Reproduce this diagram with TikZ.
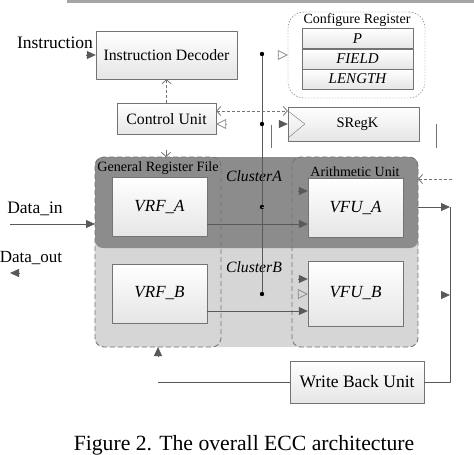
\documentclass[tikz,border=0pt]{standalone}
\usepackage{fontspec}
\setmainfont{Liberation Serif}
\usetikzlibrary{arrows.meta}
\tikzset{
	blk/.style={draw=black!55, top color=white, bottom color=black!10, inner sep=0pt},
	ln/.style={draw=black!65, line width=0.8pt},
	tipf/.style={ln, -{Triangle[length=9pt,width=8pt]}},
	tipo/.style={ln, draw=black!45, -{Triangle[open,length=10pt,width=10pt]}},
	barb/.style={ln, draw=black!55, -{Straight Barb[length=4pt,width=9pt]}},
	dsh/.style={dash pattern=on 3pt off 2pt}
}
\newcommand{\fsz}[1]{\fontsize{#1}{#1}\selectfont}
\begin{document}
\begin{tikzpicture}[x=1pt, y=-1pt, font=\fsz{15.8}, line join=round]
	\useasboundingbox (0,0) rectangle (474,455);
	\fill[black!35] (67,0) rectangle (474,3);
	% clusters
	\fill[black!16, rounded corners=8pt] (95,157) rectangle (418,347);
	\fill[black!45, rounded corners=8pt] (95,157) rectangle (418,248);
	\draw[black!55, dash pattern=on 5pt off 3pt, line width=0.8pt, rounded corners=9pt] (95,157) rectangle (221,347) (292,157) rectangle (418,347);
	\node[font=\fsz{14.2}] (grf) at (158,168) {General Register File};
	\node[font=\fsz{14}] (au) at (355,172) {Arithmetic Unit};
	\node[font=\itshape\fsz{15.7}] (ca) at (254,176) {ClusterA};
	\node[font=\itshape\fsz{15.7}] (cb) at (254,267) {ClusterB};
	% blocks
	\node[blk, minimum width=141pt, minimum height=48pt] (dec) at (166.5,55) {Instruction Decoder};
	\node[blk, minimum width=99pt, minimum height=31pt] (cu) at (166.5,119) {Control Unit};
	\node[draw=black!60, fill=white, dash pattern=on 1.5pt off 1.5pt, rounded corners=16pt, minimum width=137pt, minimum height=86pt] (cfg) at (356.5,55) {};
	\node[font=\fsz{14}] (cfgt) at (357,20) {Configure Register};
	\foreach \r/\t/\yy in {p/P/38.5, field/FIELD/59, len/LENGTH/79}
		\node[blk, font=\itshape\fsz{15}, minimum width=111pt, minimum height=20pt] (\r) at (357.5,\yy) {\t};
	\node[blk, font=\fsz{14.5}, minimum width=131pt, minimum height=34pt] (sreg) at (353.5,124) {\hspace{8pt}SRegK};
	\draw[black!55] ([yshift=-4pt]sreg.north west) -- ([xshift=17pt]sreg.west) -- ([yshift=3pt]sreg.south west);
	\node[blk, font=\itshape\fsz{17}, minimum width=95pt, minimum height=59pt] (vrfa) at (159.5,206.5) {VRF\_A};
	\node[blk, font=\itshape\fsz{17}, minimum width=95pt, minimum height=59pt] (vrfb) at (159.5,293.5) {VRF\_B};
	\node[blk, font=\itshape\fsz{17}, minimum width=95pt, minimum height=59pt] (vfua) at (355.5,207.5) {VFU\_A};
	\node[blk, font=\itshape\fsz{17}, minimum width=95pt, minimum height=65pt] (vfub) at (355.5,293.5) {VFU\_B};
	\node[blk, font=\fsz{17.5}, minimum width=134pt, minimum height=42pt] (wbu) at (357,382) {Write Back Unit};
	\draw[black!55] (271,125) -- (271,148) (436,124) -- (436,148);
	% labels
	\node[font=\fsz{17.5}] (ins) at (55,43) {Instruction};
	\node[font=\fsz{17.5}] (din) at (35,209) {Data\_in};
	\node[font=\fsz{17}] (dout) at (31,258) {Data\_out};
	\node[font=\fsz{21.7}, anchor=base] (cap) at (244,450) {Figure 2. The overall ECC architecture};
	% bus
	\path (262,54) coordinate (b1) (262,124) coordinate (b2) (262,207) coordinate (b3) (262,294) coordinate (b4)
		(10,224) coordinate (dl) (450,207) coordinate (ob) (158,382) coordinate (wb);
	\draw[ln] (b1) -- (b4);
	\foreach \b in {b1,b2,b3,b4}\fill (\b) circle (2.2pt);
	\draw[tipo] ([xshift=-10pt]cfg.west) -- (cfg.west);
	\draw[tipo] ([xshift=10pt]cu.east |- b2) -- (cu.east |- b2);
	\draw[tipf] ([xshift=-9pt]sreg.west) -- (sreg.west);
	\draw[tipo] (b3) -- (vfua.west |- b3);
	\draw[tipo] ([xshift=-10pt]vfub.west |- b4) -- (vfub.west |- b4);
	\draw[tipf] (298,191) -- (vfua.west |- 0,191);
	\draw[tipf] (298,279) -- (vfub.west |- 0,279);
	\draw[tipf] (vrfa.east |- 0,224) -- (vfua.west |- 0,224);
	\draw[tipf] (vrfb.east |- 0,311) -- (vfub.west |- 0,311);
	% control
	\draw[barb, dsh] (cu.north) -- (dec.south);
	\draw[barb, dsh, {Straight Barb[length=4pt,width=9pt]}-{Straight Barb[length=4pt,width=9pt]}] (cu.east |- 0,111) -- (sreg.west |- 0,111);
	\draw[barb] (166,150) -- (166,157);
	\draw[barb, dsh] (452,179) -- (418,179);
	% data
	\draw[tipf] (86,55) -- (dec.west);
	\draw[tipf] (dl) -- (95,224);
	\draw[tipf] (19,273) -- (10,273);
	\draw[tipf] (418,207) -- (ob);
	\draw[ln] (ob) |- (wbu.east);
	\draw[tipf] (441,295) -- (450,295);
	\draw[ln] (wbu.west) -- (wb);
	\draw[tipf] (158,356) -- (158,347);
\end{tikzpicture}
\end{document}
